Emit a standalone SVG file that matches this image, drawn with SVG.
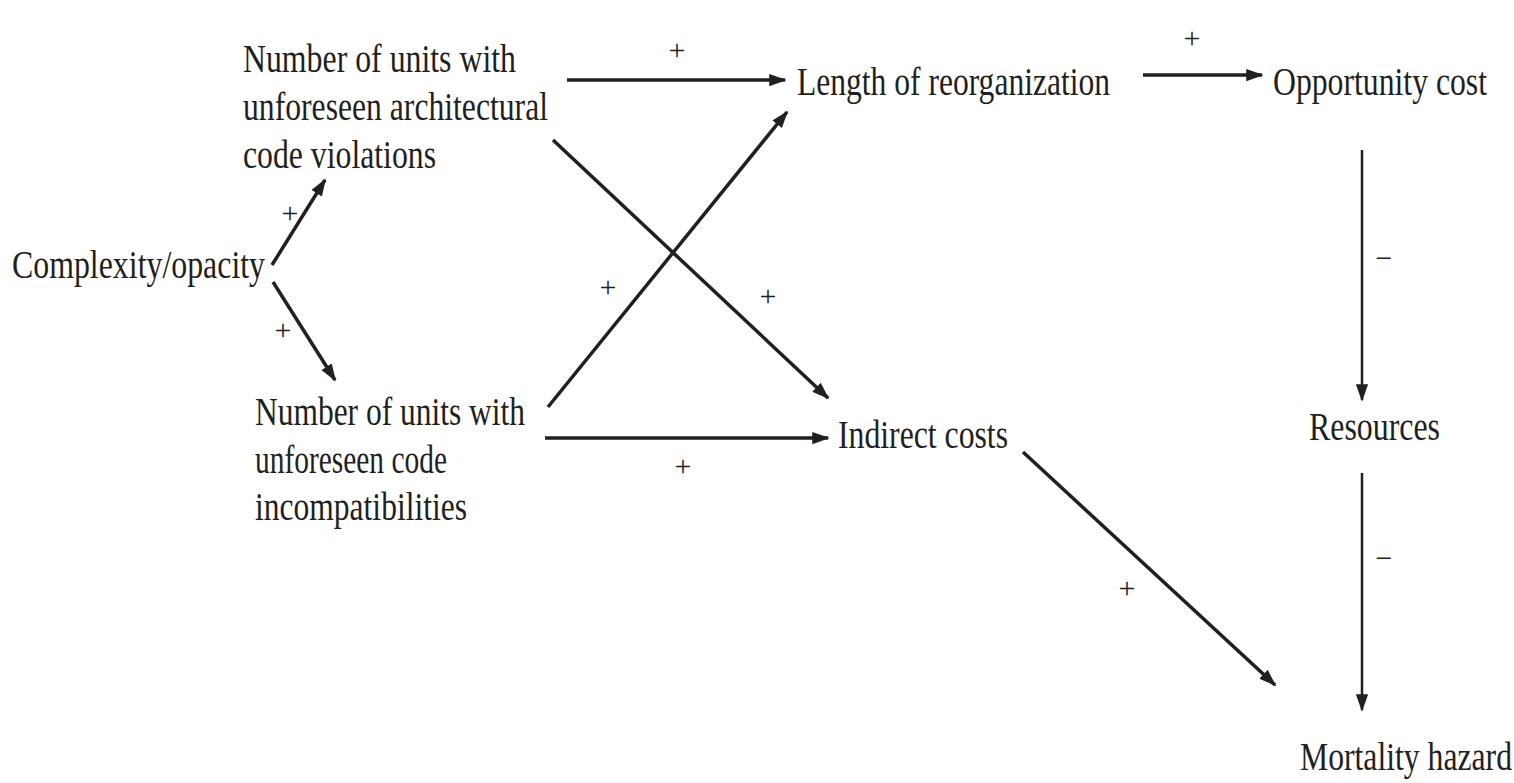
<svg xmlns="http://www.w3.org/2000/svg" width="1514" height="783" viewBox="0 0 1514 783">
<style>
text{font-family:"Liberation Serif","Times New Roman",serif;font-size:40px;fill:#231f20}
.s{font-size:30px}
line{stroke:#231f20;stroke-width:3.5}
.t{stroke-width:2.5}
</style>
<defs>
<marker id="a" viewBox="0 0 10 10" refX="9" refY="5" markerWidth="5" markerHeight="5" orient="auto" markerUnits="strokeWidth"><path d="M0,1.5 L10,5 L0,8.5 Z" fill="#231f20"/></marker>
<marker id="b" viewBox="0 0 10 10" refX="9" refY="5" markerWidth="7" markerHeight="7" orient="auto" markerUnits="strokeWidth"><path d="M0,1.5 L10,5 L0,8.5 Z" fill="#231f20"/></marker>
</defs>
<rect width="1514" height="783" fill="#fff"/>
<g id="n1"><text x="243" y="72" textLength="273" lengthAdjust="spacingAndGlyphs">Number of units with</text><text x="243" y="120" textLength="305" lengthAdjust="spacingAndGlyphs">unforeseen architectural</text><text x="243" y="168" textLength="193" lengthAdjust="spacingAndGlyphs">code violations</text></g>
<g id="n2"><text x="797" y="95" textLength="313" lengthAdjust="spacingAndGlyphs">Length of reorganization</text></g>
<g id="n3"><text x="1273" y="95" textLength="214" lengthAdjust="spacingAndGlyphs">Opportunity cost</text></g>
<g id="n4"><text x="12" y="278" textLength="253" lengthAdjust="spacingAndGlyphs">Complexity/opacity</text></g>
<g id="n5"><text x="255" y="425" textLength="270" lengthAdjust="spacingAndGlyphs">Number of units with</text><text x="255" y="473" textLength="192" lengthAdjust="spacingAndGlyphs">unforeseen code</text><text x="255" y="520" textLength="212" lengthAdjust="spacingAndGlyphs">incompatibilities</text></g>
<g id="n6"><text x="838" y="448" textLength="170" lengthAdjust="spacingAndGlyphs">Indirect costs</text></g>
<g id="n7"><text x="1309" y="440" textLength="131" lengthAdjust="spacingAndGlyphs">Resources</text></g>
<g id="n8"><text x="1300" y="770" textLength="212" lengthAdjust="spacingAndGlyphs">Mortality hazard</text></g>
<g id="connectors">
<line x1="567" y1="80" x2="785" y2="80" marker-end="url(#a)"/>
<line x1="1143" y1="75" x2="1262" y2="75" marker-end="url(#a)"/>
<line x1="272" y1="265" x2="325" y2="180" marker-end="url(#a)"/>
<line x1="273" y1="282" x2="335" y2="380" marker-end="url(#a)"/>
<line x1="553" y1="140" x2="828" y2="398" marker-end="url(#a)"/>
<line x1="548" y1="407" x2="787" y2="112" marker-end="url(#a)"/>
<line x1="545" y1="438" x2="828" y2="438" marker-end="url(#a)"/>
<line x1="1023" y1="452" x2="1275" y2="685" marker-end="url(#a)"/>
<line class="t" x1="1362" y1="150" x2="1362" y2="400" marker-end="url(#b)"/>
<line class="t" x1="1362" y1="473" x2="1362" y2="710" marker-end="url(#b)"/>
<text class="s" x="677" y="60" text-anchor="middle">+</text>
<text class="s" x="1192" y="48" text-anchor="middle">+</text>
<text class="s" x="290" y="223" text-anchor="middle">+</text>
<text class="s" x="283" y="340" text-anchor="middle">+</text>
<text class="s" x="768" y="306" text-anchor="middle">+</text>
<text class="s" x="608" y="297" text-anchor="middle">+</text>
<text class="s" x="683" y="476" text-anchor="middle">+</text>
<text class="s" x="1127" y="598" text-anchor="middle">+</text>
<text class="s" x="1384" y="268" text-anchor="middle">−</text>
<text class="s" x="1384" y="568" text-anchor="middle">−</text>
</g>
</svg>
